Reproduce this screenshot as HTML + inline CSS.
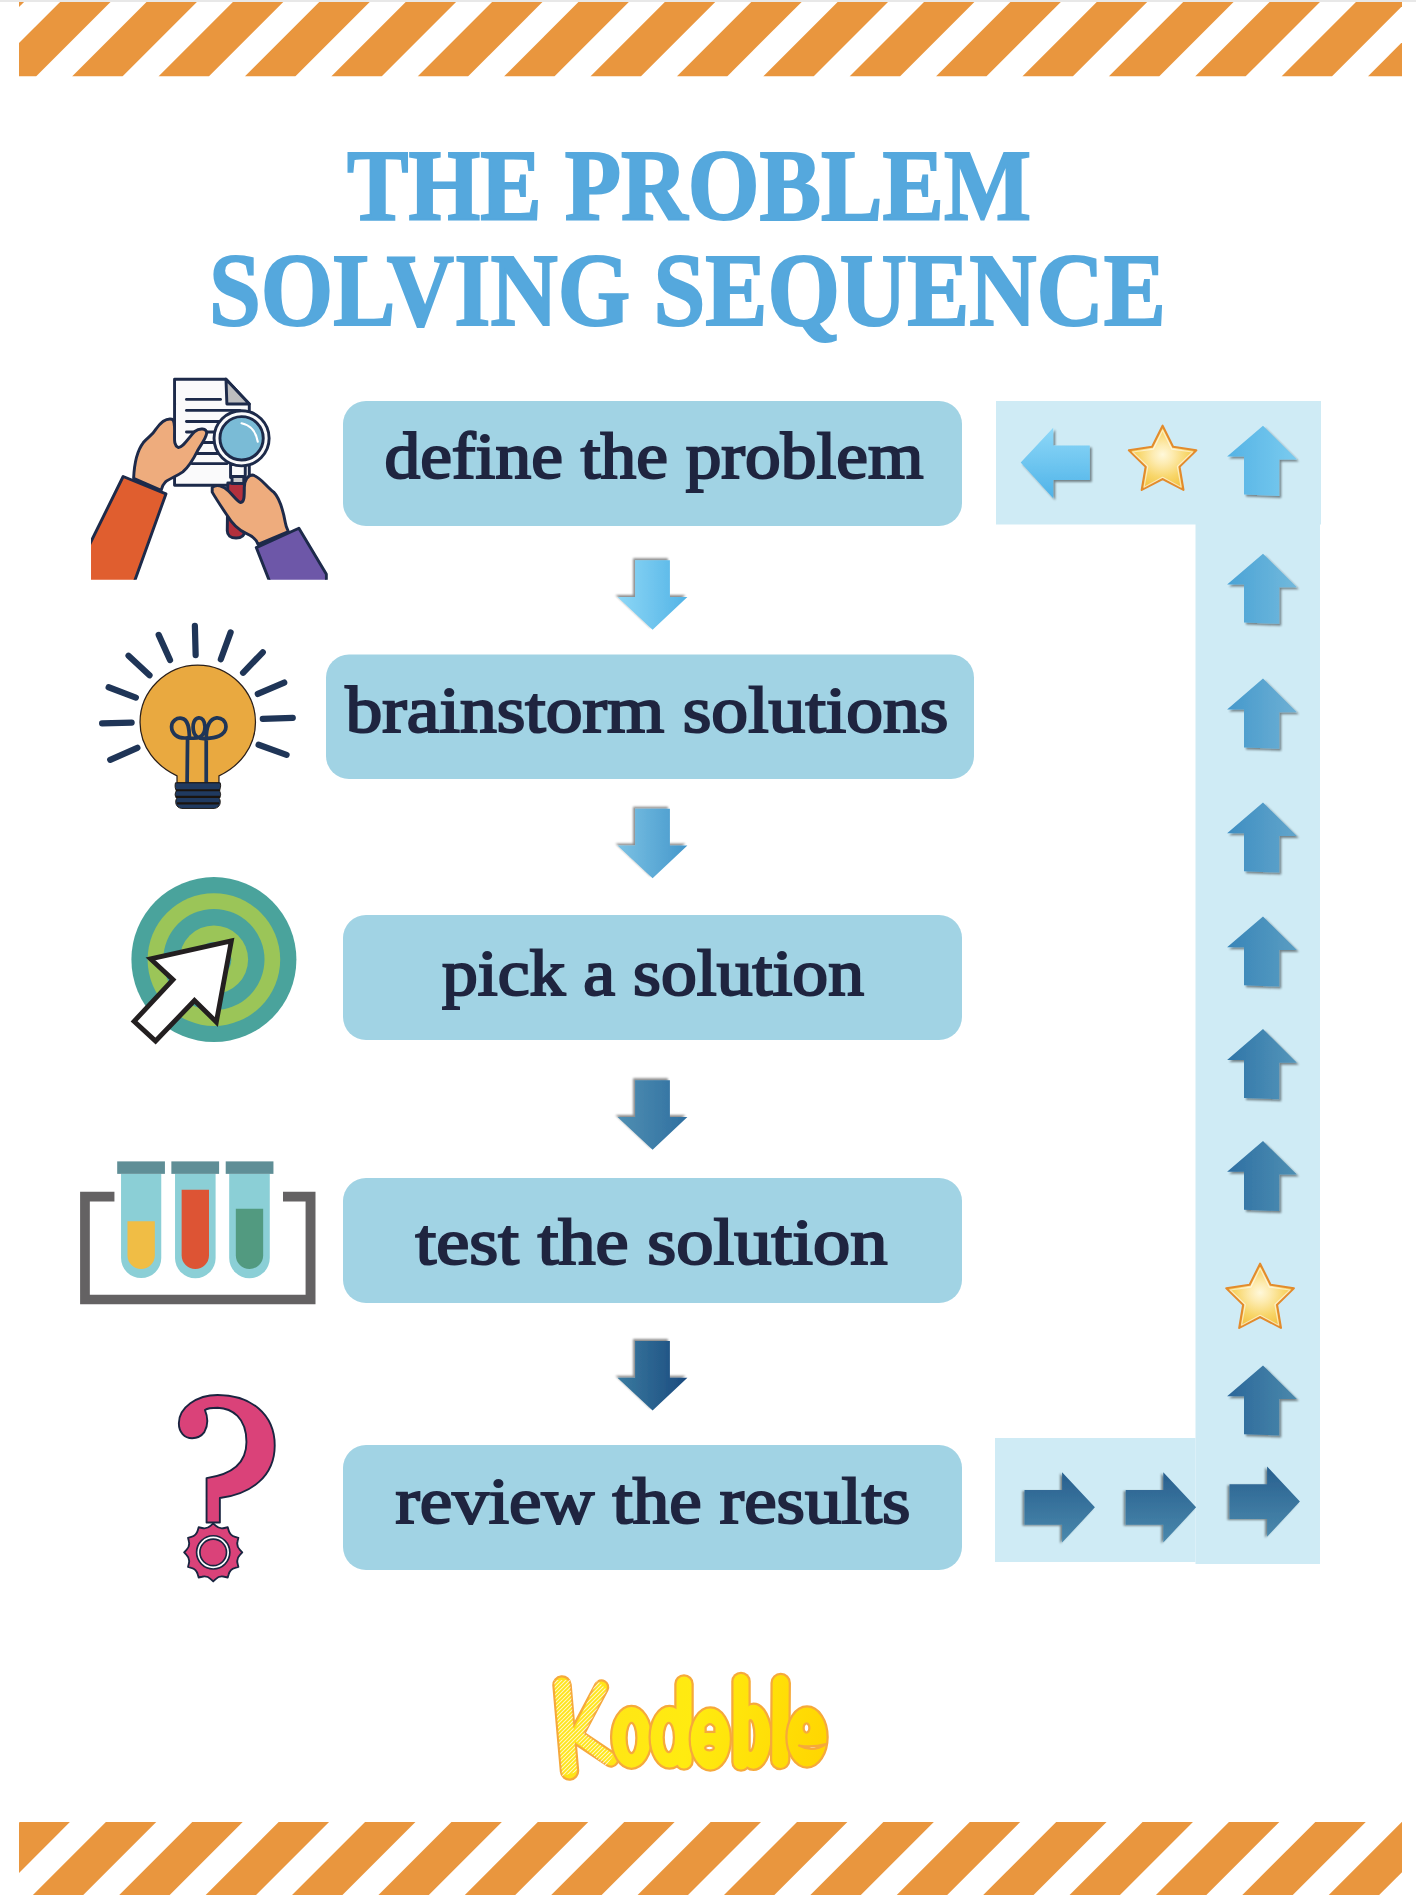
<!DOCTYPE html>
<html><head><meta charset="utf-8">
<style>
html,body{margin:0;padding:0;background:#fff;}
body{width:1416px;height:1895px;overflow:hidden;position:relative;}
svg{position:absolute;left:0;top:0;display:block;}
</style></head><body>
<svg width="1416" height="1895" viewBox="0 0 1416 1895">
<defs>
<clipPath id="ct"><rect x="19" y="2" width="1383" height="74.5"/></clipPath>
<clipPath id="cb"><rect x="19" y="1822" width="1383" height="73"/></clipPath>
<filter id="shBR" x="-30%" y="-30%" width="160%" height="160%"><feGaussianBlur in="SourceAlpha" stdDeviation="1.3"/><feOffset dx="1.8" dy="1.5" result="b"/><feComponentTransfer><feFuncA type="linear" slope="0.45"/></feComponentTransfer><feMerge><feMergeNode/><feMergeNode in="SourceGraphic"/></feMerge></filter><filter id="shTL" x="-30%" y="-30%" width="160%" height="160%"><feGaussianBlur in="SourceAlpha" stdDeviation="1.3"/><feOffset dx="-1.8" dy="-1.8" result="b"/><feComponentTransfer><feFuncA type="linear" slope="0.45"/></feComponentTransfer><feMerge><feMergeNode/><feMergeNode in="SourceGraphic"/></feMerge></filter><filter id="shL" x="-30%" y="-30%" width="160%" height="160%"><feGaussianBlur in="SourceAlpha" stdDeviation="1.3"/><feOffset dx="-1.8" dy="1.2" result="b"/><feComponentTransfer><feFuncA type="linear" slope="0.45"/></feComponentTransfer><feMerge><feMergeNode/><feMergeNode in="SourceGraphic"/></feMerge></filter><linearGradient id="gu0" x1="0" y1="0" x2="1" y2="0"><stop offset="0" stop-color="#55B3E5"/><stop offset="1" stop-color="#7ACBEF"/></linearGradient><linearGradient id="gu1" x1="0" y1="0" x2="1" y2="0"><stop offset="0" stop-color="#4AA3D6"/><stop offset="1" stop-color="#72B9DC"/></linearGradient><linearGradient id="gu2" x1="0" y1="0" x2="1" y2="0"><stop offset="0" stop-color="#4599CC"/><stop offset="1" stop-color="#6EB0D4"/></linearGradient><linearGradient id="gu3" x1="0" y1="0" x2="1" y2="0"><stop offset="0" stop-color="#3E8EC2"/><stop offset="1" stop-color="#62A5CB"/></linearGradient><linearGradient id="gu4" x1="0" y1="0" x2="1" y2="0"><stop offset="0" stop-color="#3885B8"/><stop offset="1" stop-color="#5A9DC2"/></linearGradient><linearGradient id="gu5" x1="0" y1="0" x2="1" y2="0"><stop offset="0" stop-color="#2F75A8"/><stop offset="1" stop-color="#5596BA"/></linearGradient><linearGradient id="gu6" x1="0" y1="0" x2="1" y2="0"><stop offset="0" stop-color="#2E6FA2"/><stop offset="1" stop-color="#4E8FB3"/></linearGradient><linearGradient id="gu7" x1="0" y1="0" x2="1" y2="0"><stop offset="0" stop-color="#2B679A"/><stop offset="1" stop-color="#4A88AB"/></linearGradient><linearGradient id="gd0" x1="0" y1="0" x2="1" y2="0"><stop offset="0" stop-color="#8DD7F6"/><stop offset="1" stop-color="#52B3E6"/></linearGradient><linearGradient id="gd1" x1="0" y1="0" x2="1" y2="0"><stop offset="0" stop-color="#7CC2E4"/><stop offset="1" stop-color="#4497CB"/></linearGradient><linearGradient id="gd2" x1="0" y1="0" x2="1" y2="0"><stop offset="0" stop-color="#508FB2"/><stop offset="1" stop-color="#2F6FA0"/></linearGradient><linearGradient id="gd3" x1="0" y1="0" x2="1" y2="0"><stop offset="0" stop-color="#3A7BA0"/><stop offset="1" stop-color="#1B4A7E"/></linearGradient><linearGradient id="gl" x1="0" y1="0" x2="0" y2="1"><stop offset="0" stop-color="#8ED8F8"/><stop offset="1" stop-color="#4FB3E8"/></linearGradient><linearGradient id="gr" x1="0" y1="0" x2="0" y2="1"><stop offset="0" stop-color="#285F8E"/><stop offset="1" stop-color="#4A89AD"/></linearGradient><radialGradient id="gstar" cx="0.5" cy="0.45" r="0.6"><stop offset="0" stop-color="#FFF8DA"/><stop offset="0.25" stop-color="#FDEBB0"/><stop offset="0.6" stop-color="#F8D66A"/><stop offset="1" stop-color="#F2BF3A"/></radialGradient>
</defs>

<rect x="0" y="0" width="1416" height="2" fill="#E8E8E8"/>
<g clip-path="url(#ct)" fill="#E9963E"><polygon points="-199.07,2.00 -148.67,2.00 -223.17,76.50 -273.57,76.50"/><polygon points="-112.68,2.00 -62.28,2.00 -136.78,76.50 -187.18,76.50"/><polygon points="-26.29,2.00 24.11,2.00 -50.39,76.50 -100.79,76.50"/><polygon points="60.10,2.00 110.50,2.00 36.00,76.50 -14.40,76.50"/><polygon points="146.49,2.00 196.89,2.00 122.39,76.50 71.99,76.50"/><polygon points="232.88,2.00 283.28,2.00 208.78,76.50 158.38,76.50"/><polygon points="319.27,2.00 369.67,2.00 295.17,76.50 244.77,76.50"/><polygon points="405.66,2.00 456.06,2.00 381.56,76.50 331.16,76.50"/><polygon points="492.05,2.00 542.45,2.00 467.95,76.50 417.55,76.50"/><polygon points="578.44,2.00 628.84,2.00 554.34,76.50 503.94,76.50"/><polygon points="664.83,2.00 715.23,2.00 640.73,76.50 590.33,76.50"/><polygon points="751.22,2.00 801.62,2.00 727.12,76.50 676.72,76.50"/><polygon points="837.61,2.00 888.01,2.00 813.51,76.50 763.11,76.50"/><polygon points="924.00,2.00 974.40,2.00 899.90,76.50 849.50,76.50"/><polygon points="1010.39,2.00 1060.79,2.00 986.29,76.50 935.89,76.50"/><polygon points="1096.78,2.00 1147.18,2.00 1072.68,76.50 1022.28,76.50"/><polygon points="1183.17,2.00 1233.57,2.00 1159.07,76.50 1108.67,76.50"/><polygon points="1269.56,2.00 1319.96,2.00 1245.46,76.50 1195.06,76.50"/><polygon points="1355.95,2.00 1406.35,2.00 1331.85,76.50 1281.45,76.50"/><polygon points="1442.34,2.00 1492.74,2.00 1418.24,76.50 1367.84,76.50"/><polygon points="1528.73,2.00 1579.13,2.00 1504.63,76.50 1454.23,76.50"/></g>
<g clip-path="url(#cb)" fill="#E9963E"><polygon points="-153.29,1822.00 -102.89,1822.00 -175.89,1895.00 -226.29,1895.00"/><polygon points="-66.90,1822.00 -16.50,1822.00 -89.50,1895.00 -139.90,1895.00"/><polygon points="19.49,1822.00 69.89,1822.00 -3.11,1895.00 -53.51,1895.00"/><polygon points="105.88,1822.00 156.28,1822.00 83.28,1895.00 32.88,1895.00"/><polygon points="192.27,1822.00 242.67,1822.00 169.67,1895.00 119.27,1895.00"/><polygon points="278.66,1822.00 329.06,1822.00 256.06,1895.00 205.66,1895.00"/><polygon points="365.05,1822.00 415.45,1822.00 342.45,1895.00 292.05,1895.00"/><polygon points="451.44,1822.00 501.84,1822.00 428.84,1895.00 378.44,1895.00"/><polygon points="537.83,1822.00 588.23,1822.00 515.23,1895.00 464.83,1895.00"/><polygon points="624.22,1822.00 674.62,1822.00 601.62,1895.00 551.22,1895.00"/><polygon points="710.61,1822.00 761.01,1822.00 688.01,1895.00 637.61,1895.00"/><polygon points="797.00,1822.00 847.40,1822.00 774.40,1895.00 724.00,1895.00"/><polygon points="883.39,1822.00 933.79,1822.00 860.79,1895.00 810.39,1895.00"/><polygon points="969.78,1822.00 1020.18,1822.00 947.18,1895.00 896.78,1895.00"/><polygon points="1056.17,1822.00 1106.57,1822.00 1033.57,1895.00 983.17,1895.00"/><polygon points="1142.56,1822.00 1192.96,1822.00 1119.96,1895.00 1069.56,1895.00"/><polygon points="1228.95,1822.00 1279.35,1822.00 1206.35,1895.00 1155.95,1895.00"/><polygon points="1315.34,1822.00 1365.74,1822.00 1292.74,1895.00 1242.34,1895.00"/><polygon points="1401.73,1822.00 1452.13,1822.00 1379.13,1895.00 1328.73,1895.00"/><polygon points="1488.12,1822.00 1538.52,1822.00 1465.52,1895.00 1415.12,1895.00"/></g>

<g font-family="Liberation Serif" font-weight="bold" fill="#55A8DD" stroke="#55A8DD" stroke-width="2">
<text x="347" y="220" font-size="101" textLength="684" lengthAdjust="spacingAndGlyphs">THE PROBLEM</text>
<text x="209" y="325" font-size="103" textLength="957" lengthAdjust="spacingAndGlyphs">SOLVING SEQUENCE</text>
</g>

<g fill="#A1D3E4">
<rect x="343" y="401" width="619" height="125" rx="23"/>
<rect x="326" y="654.5" width="648" height="124.5" rx="23"/>
<rect x="343" y="915" width="619" height="125" rx="23"/>
<rect x="343" y="1178" width="619" height="125" rx="23"/>
<rect x="343" y="1445" width="619" height="125" rx="23"/>
</g>
<g font-family="Liberation Serif" font-weight="normal" fill="#1F2540" stroke="#1F2540" stroke-width="2.1" font-size="65">
<text x="384.5" y="477.5" textLength="539" lengthAdjust="spacingAndGlyphs">define the problem</text>
<text x="345.5" y="731.5" textLength="603" lengthAdjust="spacingAndGlyphs">brainstorm solutions</text>
<text x="442" y="994.5" textLength="422" lengthAdjust="spacingAndGlyphs">pick a solution</text>
<text x="415.5" y="1264" textLength="472" lengthAdjust="spacingAndGlyphs">test the solution</text>
<text x="395.5" y="1522.5" textLength="515" lengthAdjust="spacingAndGlyphs">review the results</text>
</g>

<g fill="#CFEBF5">
<rect x="996" y="401" width="325" height="123.5"/>
<rect x="1195.5" y="524" width="124.5" height="1040"/>
<rect x="995" y="1438" width="200.5" height="124"/>
</g>
<polygon points="1263.00,425.80 1296.90,459.40 1279.20,459.40 1279.20,495.90 1244.00,494.60 1244.00,456.60 1227.10,456.60" fill="url(#gu0)" filter="url(#shBR)"/><polygon points="1263.00,553.70 1296.90,587.30 1279.20,587.30 1279.20,623.80 1244.00,622.50 1244.00,584.50 1227.10,584.50" fill="url(#gu1)" filter="url(#shBR)"/><polygon points="1263.00,678.60 1296.90,712.20 1279.20,712.20 1279.20,748.70 1244.00,747.40 1244.00,709.40 1227.10,709.40" fill="url(#gu2)" filter="url(#shBR)"/><polygon points="1263.00,802.50 1296.90,836.10 1279.20,836.10 1279.20,872.60 1244.00,871.30 1244.00,833.30 1227.10,833.30" fill="url(#gu3)" filter="url(#shBR)"/><polygon points="1263.00,916.50 1296.90,950.10 1279.20,950.10 1279.20,986.60 1244.00,985.30 1244.00,947.30 1227.10,947.30" fill="url(#gu4)" filter="url(#shBR)"/><polygon points="1263.00,1029.10 1296.90,1062.70 1279.20,1062.70 1279.20,1099.20 1244.00,1097.90 1244.00,1059.90 1227.10,1059.90" fill="url(#gu5)" filter="url(#shBR)"/><polygon points="1263.00,1141.00 1296.90,1174.60 1279.20,1174.60 1279.20,1211.10 1244.00,1209.80 1244.00,1171.80 1227.10,1171.80" fill="url(#gu6)" filter="url(#shBR)"/><polygon points="1263.00,1365.40 1296.90,1399.00 1279.20,1399.00 1279.20,1435.50 1244.00,1434.20 1244.00,1396.20 1227.10,1396.20" fill="url(#gu7)" filter="url(#shBR)"/><polygon points="652.60,629.70 687.40,597.00 669.90,597.00 669.90,560.30 635.10,560.30 635.10,597.00 617.50,597.00" fill="url(#gd0)" filter="url(#shTL)"/><polygon points="652.60,878.20 687.40,845.50 669.90,845.50 669.90,808.80 635.10,808.80 635.10,845.50 617.50,845.50" fill="url(#gd1)" filter="url(#shTL)"/><polygon points="652.60,1149.70 687.40,1117.00 669.90,1117.00 669.90,1080.30 635.10,1080.30 635.10,1117.00 617.50,1117.00" fill="url(#gd2)" filter="url(#shTL)"/><polygon points="652.60,1410.50 687.40,1377.80 669.90,1377.80 669.90,1341.10 635.10,1341.10 635.10,1377.80 617.50,1377.80" fill="url(#gd3)" filter="url(#shTL)"/><polygon points="1020.70,462.60 1053.20,427.80 1053.20,445.60 1089.80,445.60 1089.80,480.00 1053.20,480.00 1053.20,498.20" fill="url(#gl)" filter="url(#shBR)"/><polygon points="1094.90,1507.30 1062.10,1472.20 1062.10,1490.00 1024.50,1490.00 1024.50,1524.80 1062.10,1524.80 1062.10,1542.60" fill="url(#gr)" filter="url(#shL)"/><polygon points="1196.10,1507.30 1163.30,1472.20 1163.30,1490.00 1125.70,1490.00 1125.70,1524.80 1163.30,1524.80 1163.30,1542.60" fill="url(#gr)" filter="url(#shL)"/><polygon points="1299.90,1501.50 1267.10,1466.40 1267.10,1484.20 1229.50,1484.20 1229.50,1519.00 1267.10,1519.00 1267.10,1536.80" fill="url(#gr)" filter="url(#shL)"/>
<polygon points="1162.60,425.70 1173.06,446.80 1196.36,450.23 1179.53,466.70 1183.47,489.92 1162.60,479.00 1141.73,489.92 1145.67,466.70 1128.84,450.23 1152.14,446.80" fill="url(#gstar)" stroke="#E38B2C" stroke-width="2.1" stroke-linejoin="round"/><polygon points="1162.60,430.20 1171.77,449.08 1192.56,451.97 1177.44,466.52 1181.12,487.18 1162.60,477.30 1144.08,487.18 1147.76,466.52 1132.64,451.97 1153.43,449.08" fill="none" stroke="#FFFFFF" stroke-opacity="0.55" stroke-width="1.2" stroke-linejoin="round"/><polygon points="1260.10,1263.70 1270.56,1284.80 1293.86,1288.23 1277.03,1304.70 1280.97,1327.92 1260.10,1317.00 1239.23,1327.92 1243.17,1304.70 1226.34,1288.23 1249.64,1284.80" fill="url(#gstar)" stroke="#E38B2C" stroke-width="2.1" stroke-linejoin="round"/><polygon points="1260.10,1268.20 1269.27,1287.08 1290.06,1289.97 1274.94,1304.52 1278.62,1325.18 1260.10,1315.30 1241.58,1325.18 1245.26,1304.52 1230.14,1289.97 1250.93,1287.08" fill="none" stroke="#FFFFFF" stroke-opacity="0.55" stroke-width="1.2" stroke-linejoin="round"/>
<!-- ICON 1: hands with document + magnifier; zoom coords: x=80+zx/5.446, y=370+zy/5.446 -->
<clipPath id="c1"><rect x="60" y="0" width="1290" height="1142"/></clipPath>
<g transform="translate(80,370) scale(0.18362)" stroke="#1D2A4A" stroke-width="16" stroke-linejoin="round" stroke-linecap="round" clip-path="url(#c1)">
  <!-- paper -->
  <path d="M515 50 L795 50 L922 185 L922 628 L515 628 Z" fill="#FAFAFB"/>
  <path d="M795 50 L800 185 L922 185 Z" fill="#BDBDBF"/>
  <g stroke-width="16" fill="none">
    <line x1="580" y1="160" x2="765" y2="160"/>
    <line x1="580" y1="220" x2="870" y2="220"/>
    <line x1="580" y1="280" x2="760" y2="280"/>
    <line x1="580" y1="338" x2="740" y2="338"/>
    <line x1="620" y1="395" x2="740" y2="395"/>
    <line x1="620" y1="455" x2="760" y2="455"/>
    <line x1="610" y1="510" x2="800" y2="510"/>
  </g>
  <!-- orange sleeve -->
  <path d="M40 975 L235 580 L468 675 L290 1170 L40 1170 Z" fill="#E05E2F"/>
  <!-- left hand -->
  <path d="M292 590 C295 520 310 440 345 395 C370 365 395 355 415 320 C440 285 470 262 500 268 C515 272 515 300 515 330 C515 380 510 410 535 422 C560 425 590 370 625 335 C650 315 690 315 690 345 C685 375 660 405 640 440 C620 480 600 520 560 555 C525 580 490 590 465 610 C450 625 445 640 442 655 Z" fill="#EEAC7D"/>
  <!-- magnifier handle -->
  <path d="M805 615 L895 615 L895 880 C895 905 875 915 850 915 C820 915 802 900 802 875 Z" fill="#B3303D"/>
  <rect x="820" y="515" width="80" height="70" fill="#FAFAFB"/>
  <rect x="828" y="580" width="64" height="38" fill="#C9C9CB"/>
  <!-- magnifier ring -->
  <circle cx="880" cy="372" r="150" fill="#FAFAFB"/>
  <circle cx="880" cy="372" r="118" fill="#7ABBD6"/>
  <path d="M880 290 C930 300 960 340 968 390" fill="none" stroke="#FFFFFF" stroke-width="12"/>
  <!-- right hand -->
  <path d="M720 640 C740 620 780 630 810 660 C840 690 860 720 875 722 C895 720 895 690 895 640 C895 600 915 572 940 572 C980 580 1010 630 1055 665 C1090 700 1105 760 1118 830 C1122 855 1130 870 1135 880 L970 950 C960 920 940 905 905 890 C870 875 830 840 800 790 C770 745 740 700 720 665 Z" fill="#EEAC7D"/>
  <!-- purple sleeve -->
  <path d="M960 967 L1192 862 L1342 1112 L1342 1170 L1040 1170 Z" fill="#6D57A8"/>
</g>

<!-- ICON 2: lightbulb; x=90+zx/6.436, y=615+zy/6.436 -->
<g transform="translate(90,615) scale(0.15538)">
  <g stroke="#1F3557" stroke-width="40" stroke-linecap="round">
    <line x1="675" y1="70" x2="680" y2="258"/>
    <line x1="442" y1="128" x2="515" y2="290"/>
    <line x1="905" y1="112" x2="842" y2="285"/>
    <line x1="248" y1="262" x2="383" y2="388"/>
    <line x1="1112" y1="240" x2="985" y2="372"/>
    <line x1="120" y1="465" x2="295" y2="532"/>
    <line x1="1250" y1="435" x2="1080" y2="508"/>
    <line x1="78" y1="698" x2="268" y2="692"/>
    <line x1="1112" y1="668" x2="1305" y2="662"/>
    <line x1="130" y1="932" x2="305" y2="855"/>
    <line x1="1085" y1="835" x2="1265" y2="900"/>
  </g>
  <path d="M560 1080 L560 1035 C430 975 322 850 322 690 C322 490 490 322 693 322 C896 322 1065 490 1065 690 C1065 850 960 975 830 1035 L830 1080 Z" fill="#E9A940" stroke="#2A1F1A" stroke-width="8"/>
  <g fill="none" stroke="#1F3557" stroke-width="24">
    <path d="M625 1080 L628 790 C560 800 525 760 525 720 C525 680 560 660 590 665 C630 672 640 720 640 800 M628 790 C690 800 740 790 740 720 C740 680 720 660 700 662 C670 665 660 700 665 740 C670 780 700 800 745 795 C800 790 875 780 875 720 C875 680 845 660 815 662 C770 668 748 720 748 800 L748 1080"/>
  </g>
  <path d="M550 1080 L838 1080 C845 1100 838 1120 832 1130 C845 1150 842 1165 832 1180 C845 1200 840 1240 800 1245 L590 1245 C550 1240 545 1200 558 1180 C545 1165 545 1150 556 1130 C548 1120 545 1100 550 1080 Z" fill="#203A60" stroke="#1A140F" stroke-width="6"/>
  <g stroke="#1A140F" stroke-width="14">
    <line x1="552" y1="1128" x2="838" y2="1128"/>
    <line x1="552" y1="1170" x2="838" y2="1170"/>
    <line x1="560" y1="1212" x2="830" y2="1212"/>
  </g>
</g>

<!-- ICON 3: target; x=120+zx/7.4526, y=865+zy/7.4526 -->
<g>
  <circle cx="213.9" cy="959.6" r="82.5" fill="#4AA39C"/>
  <circle cx="213.9" cy="959.6" r="66.3" fill="#9BC558"/>
  <circle cx="213.9" cy="959.6" r="50.6" fill="#4AA39C"/>
  <circle cx="213.9" cy="959.6" r="34.2" fill="#9BC558"/>
  <circle cx="213.9" cy="959.6" r="17.5" fill="#4AA39C"/>
  <g transform="translate(120,865) scale(0.13418)">
    <path d="M830 565 L228 700 L395 855 L105 1165 L265 1312 L555 1010 L718 1170 Z" fill="#FFFFFF" stroke="#231F20" stroke-width="36" stroke-linejoin="miter" stroke-miterlimit="10"/>
  </g>
</g>

<!-- ICON 4: test tubes; x=70+zx/5.446, y=1150+zy/5.446 -->
<g transform="translate(70,1150) scale(0.18362)">
  <path d="M55 228 L242 228 L242 280 L108 280 L108 788 L1283 788 L1283 280 L1160 280 L1160 228 L1337 228 L1337 840 L55 840 Z" fill="#646263"/>
  <path d="M278 130 L497 130 L497 588 A109.5 109.5 0 0 1 278 588 Z" fill="#8BCFD6"/>
  <path d="M572 130 L793 130 L793 588 A110.5 110.5 0 0 1 572 588 Z" fill="#8BCFD6"/>
  <path d="M867 130 L1088 130 L1088 588 A110.5 110.5 0 0 1 867 588 Z" fill="#8BCFD6"/>
  <path d="M313 388 L462 388 L462 573 A74.5 74.5 0 0 1 313 573 Z" fill="#F0BD45"/>
  <path d="M608 217 L757 217 L757 573 A74.5 74.5 0 0 1 608 573 Z" fill="#DD5434"/>
  <path d="M903 320 L1052 320 L1052 573 A74.5 74.5 0 0 1 903 573 Z" fill="#529A80"/>
  <rect x="257" y="62" width="260" height="68" fill="#5F8E96"/>
  <rect x="552" y="62" width="260" height="68" fill="#5F8E96"/>
  <rect x="848" y="62" width="260" height="68" fill="#5F8E96"/>
</g>

<!-- ICON 5: question mark; x=160+zx/9.0214, y=1380+zy/9.0214 -->
<g transform="translate(160,1380) scale(0.11085)" stroke="#1A2540" stroke-width="17" stroke-linejoin="round">
  <path d="M420 1285 L420 885 C600 860 780 780 780 560 C780 340 650 255 520 250 C470 250 420 260 405 270 C430 330 440 400 400 470 C370 510 330 525 290 525 C220 525 170 470 170 390 C170 250 330 135 520 135 C820 135 1035 310 1035 590 C1035 870 820 1030 540 1065 L540 1285 Z" fill="#DA4279"/>
  <path d="M480.0 1293.0 L502.1 1314.0 Q535.6 1347.3 581.3 1335.2 L611.0 1328.1 L619.7 1357.4 Q632.0 1403.0 677.6 1415.3 L706.9 1424.0 L699.8 1453.7 Q687.7 1499.4 721.0 1532.9 L742.0 1555.0 L721.0 1577.1 Q687.7 1610.6 699.8 1656.3 L706.9 1686.0 L677.6 1694.7 Q632.0 1707.0 619.7 1752.6 L611.0 1781.9 L581.3 1774.8 Q535.6 1762.7 502.1 1796.0 L480.0 1817.0 L457.9 1796.0 Q424.4 1762.7 378.7 1774.8 L349.0 1781.9 L340.3 1752.6 Q328.0 1707.0 282.4 1694.7 L253.1 1686.0 L260.2 1656.3 Q272.3 1610.6 239.0 1577.1 L218.0 1555.0 L239.0 1532.9 Q272.3 1499.4 260.2 1453.7 L253.1 1424.0 L282.4 1415.3 Q328.0 1403.0 340.3 1357.4 L349.0 1328.1 L378.7 1335.2 Q424.4 1347.3 457.9 1314.0 L480.0 1293.0 Z" fill="#DA4279"/>
  <circle cx="480" cy="1555" r="150" fill="#FFFFFF" stroke-width="15"/>
  <circle cx="480" cy="1555" r="120" fill="#DA4279" stroke-width="15"/>
</g>
<linearGradient id="gy" gradientUnits="userSpaceOnUse" x1="550" y1="1700" x2="830" y2="1760"><stop offset="0" stop-color="#FFE21A"/><stop offset="0.5" stop-color="#FFEB10"/><stop offset="1" stop-color="#FFD500"/></linearGradient><g><line x1="562" y1="1685" x2="569.5" y2="1771" stroke="#F6A93B" stroke-width="19.5" stroke-linecap="round"/><line x1="575" y1="1737" x2="601.5" y2="1687" stroke="#F6A93B" stroke-width="15.5" stroke-linecap="round"/><line x1="576" y1="1736" x2="611" y2="1759.5" stroke="#F6A93B" stroke-width="16.5" stroke-linecap="round"/><line x1="562" y1="1685" x2="569.5" y2="1771" stroke="url(#gy)" stroke-width="15" stroke-linecap="round"/><line x1="575" y1="1737" x2="601.5" y2="1687" stroke="url(#gy)" stroke-width="11" stroke-linecap="round"/><line x1="576" y1="1736" x2="611" y2="1759.5" stroke="url(#gy)" stroke-width="12" stroke-linecap="round"/></g><clipPath id="kc"><path d="M554 1680 L570 1680 L577 1772 L562 1776 Z M573 1734 L597 1680 L607 1690 L580 1742 Z M572 1738 L580 1730 L614 1755 L606 1766 Z"/></clipPath><g clip-path="url(#kc)" stroke="#FFFFFF" stroke-width="1.1" opacity="0.75"><line x1="440" y1="1790" x2="560" y2="1670" /><line x1="444" y1="1790" x2="564" y2="1670" /><line x1="448" y1="1790" x2="568" y2="1670" /><line x1="452" y1="1790" x2="572" y2="1670" /><line x1="456" y1="1790" x2="576" y2="1670" /><line x1="460" y1="1790" x2="580" y2="1670" /><line x1="464" y1="1790" x2="584" y2="1670" /><line x1="468" y1="1790" x2="588" y2="1670" /><line x1="472" y1="1790" x2="592" y2="1670" /><line x1="476" y1="1790" x2="596" y2="1670" /><line x1="480" y1="1790" x2="600" y2="1670" /><line x1="484" y1="1790" x2="604" y2="1670" /><line x1="488" y1="1790" x2="608" y2="1670" /><line x1="492" y1="1790" x2="612" y2="1670" /><line x1="496" y1="1790" x2="616" y2="1670" /><line x1="500" y1="1790" x2="620" y2="1670" /><line x1="504" y1="1790" x2="624" y2="1670" /><line x1="508" y1="1790" x2="628" y2="1670" /><line x1="512" y1="1790" x2="632" y2="1670" /><line x1="516" y1="1790" x2="636" y2="1670" /><line x1="520" y1="1790" x2="640" y2="1670" /><line x1="524" y1="1790" x2="644" y2="1670" /><line x1="528" y1="1790" x2="648" y2="1670" /><line x1="532" y1="1790" x2="652" y2="1670" /><line x1="536" y1="1790" x2="656" y2="1670" /><line x1="540" y1="1790" x2="660" y2="1670" /><line x1="544" y1="1790" x2="664" y2="1670" /><line x1="548" y1="1790" x2="668" y2="1670" /><line x1="552" y1="1790" x2="672" y2="1670" /><line x1="556" y1="1790" x2="676" y2="1670" /><line x1="560" y1="1790" x2="680" y2="1670" /><line x1="564" y1="1790" x2="684" y2="1670" /><line x1="568" y1="1790" x2="688" y2="1670" /><line x1="572" y1="1790" x2="692" y2="1670" /><line x1="576" y1="1790" x2="696" y2="1670" /><line x1="580" y1="1790" x2="700" y2="1670" /><line x1="584" y1="1790" x2="704" y2="1670" /><line x1="588" y1="1790" x2="708" y2="1670" /><line x1="592" y1="1790" x2="712" y2="1670" /><line x1="596" y1="1790" x2="716" y2="1670" /><line x1="600" y1="1790" x2="720" y2="1670" /><line x1="604" y1="1790" x2="724" y2="1670" /><line x1="608" y1="1790" x2="728" y2="1670" /><line x1="612" y1="1790" x2="732" y2="1670" /><line x1="616" y1="1790" x2="736" y2="1670" /><line x1="620" y1="1790" x2="740" y2="1670" /><line x1="624" y1="1790" x2="744" y2="1670" /><line x1="628" y1="1790" x2="748" y2="1670" /><line x1="632" y1="1790" x2="752" y2="1670" /><line x1="636" y1="1790" x2="756" y2="1670" /></g><g><path d="M612.20 1737.30 A19.3 30.3 0 1 0 650.80 1737.30 A19.3 30.3 0 1 0 612.20 1737.30 Z M625.50 1738.00 A6 16.2 0 1 0 637.50 1738.00 A6 16.2 0 1 0 625.50 1738.00 Z " fill="#F6A93B" fill-rule="evenodd" stroke="#F6A93B" stroke-width="4.5"/><path d="M612.20 1737.30 A19.3 30.3 0 1 0 650.80 1737.30 A19.3 30.3 0 1 0 612.20 1737.30 Z M625.50 1738.00 A6 16.2 0 1 0 637.50 1738.00 A6 16.2 0 1 0 625.50 1738.00 Z " fill="url(#gy)" fill-rule="evenodd"/></g><g><path d="M650.70 1737.30 A18.8 30.3 0 1 0 688.30 1737.30 A18.8 30.3 0 1 0 650.70 1737.30 Z M662.60 1737.50 A6.2 15.8 0 1 0 675.00 1737.50 A6.2 15.8 0 1 0 662.60 1737.50 Z " fill="#F6A93B" fill-rule="evenodd" stroke="#F6A93B" stroke-width="4.5"/><line x1="684" y1="1684" x2="684" y2="1761" stroke="#F6A93B" stroke-width="19.5" stroke-linecap="round"/><path d="M650.70 1737.30 A18.8 30.3 0 1 0 688.30 1737.30 A18.8 30.3 0 1 0 650.70 1737.30 Z M662.60 1737.50 A6.2 15.8 0 1 0 675.00 1737.50 A6.2 15.8 0 1 0 662.60 1737.50 Z " fill="url(#gy)" fill-rule="evenodd"/><line x1="684" y1="1684" x2="684" y2="1761" stroke="url(#gy)" stroke-width="15" stroke-linecap="round"/></g><g><path d="M690.80 1739.00 A19.5 30.5 0 1 0 729.80 1739.00 A19.5 30.5 0 1 0 690.80 1739.00 Z M704.00 1748.00 A5.5 3.5 0 1 0 715.00 1748.00 A5.5 3.5 0 1 0 704.00 1748.00 Z M704.5 1733 L704.5 1727 Q710 1719 715.5 1727 L715.5 1733 Z " fill="#F6A93B" fill-rule="evenodd" stroke="#F6A93B" stroke-width="4.5"/><path d="M690.80 1739.00 A19.5 30.5 0 1 0 729.80 1739.00 A19.5 30.5 0 1 0 690.80 1739.00 Z M704.00 1748.00 A5.5 3.5 0 1 0 715.00 1748.00 A5.5 3.5 0 1 0 704.00 1748.00 Z M704.5 1733 L704.5 1727 Q710 1719 715.5 1727 L715.5 1733 Z " fill="url(#gy)" fill-rule="evenodd"/></g><g><path d="M736.50 1736.80 A17 32 0 1 0 770.50 1736.80 A17 32 0 1 0 736.50 1736.80 Z M745.50 1735.50 A5 16.5 0 1 0 755.50 1735.50 A5 16.5 0 1 0 745.50 1735.50 Z " fill="#F6A93B" fill-rule="evenodd" stroke="#F6A93B" stroke-width="4.5"/><line x1="741" y1="1681.5" x2="741" y2="1762" stroke="#F6A93B" stroke-width="19.5" stroke-linecap="round"/><path d="M736.50 1736.80 A17 32 0 1 0 770.50 1736.80 A17 32 0 1 0 736.50 1736.80 Z M745.50 1735.50 A5 16.5 0 1 0 755.50 1735.50 A5 16.5 0 1 0 745.50 1735.50 Z " fill="url(#gy)" fill-rule="evenodd"/><line x1="741" y1="1681.5" x2="741" y2="1762" stroke="url(#gy)" stroke-width="15" stroke-linecap="round"/></g><g><line x1="780.7" y1="1683" x2="780.2" y2="1760" stroke="#F6A93B" stroke-width="20.5" stroke-linecap="round"/><line x1="780.7" y1="1683" x2="780.2" y2="1760" stroke="url(#gy)" stroke-width="16" stroke-linecap="round"/></g><g><path d="M787.50 1737.00 A19.5 29.5 0 1 0 826.50 1737.00 A19.5 29.5 0 1 0 787.50 1737.00 Z M802.50 1728.00 A4 5.8 0 1 0 810.50 1728.00 A4 5.8 0 1 0 802.50 1728.00 Z " fill="#F6A93B" fill-rule="evenodd" stroke="#F6A93B" stroke-width="4.5"/><path d="M787.50 1737.00 A19.5 29.5 0 1 0 826.50 1737.00 A19.5 29.5 0 1 0 787.50 1737.00 Z M802.50 1728.00 A4 5.8 0 1 0 810.50 1728.00 A4 5.8 0 1 0 802.50 1728.00 Z " fill="url(#gy)" fill-rule="evenodd"/></g><path d="M799 1745.5 Q813 1753 826 1744 Q812 1748 799 1745.5 Z" fill="#FFFFFF" stroke="#F6A93B" stroke-width="2.2" stroke-linejoin="round"/>
</svg>
</body></html>
